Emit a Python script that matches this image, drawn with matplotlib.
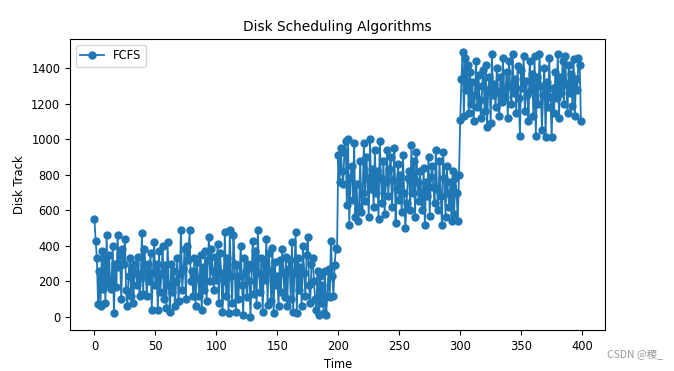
import matplotlib.pyplot as plt

# hand-read track values, x = 0..399
seg1 = [550, 430, 330, 75, 260, 60, 370, 160, 330, 80, 460, 200, 350, 180, 160, 400, 20, 300, 170, 460,
        280, 350, 100, 380, 300, 440, 150, 60, 230, 330, 120, 280, 80, 300, 250, 180, 340, 120, 220, 470,
        130, 380, 260, 120, 300, 200, 360, 40, 250, 420, 180, 300, 40, 370, 140, 240, 400, 100, 290, 50,
        420, 180, 30, 300, 140, 260, 60, 200, 330, 90, 240, 490, 150, 270, 380, 100, 400, 320, 490, 200,
        260, 120, 330, 60, 310, 220, 120, 350, 40, 280, 150, 370, 90, 320, 450, 200, 380, 260, 150, 340,
        210, 410, 80, 360, 250, 30, 200, 480, 120, 330, 20, 490, 230, 80, 460, 300, 30, 290, 100, 230,
        400, 180, 10, 330, 260, 110, 300, 200, 0, 280, 430, 130, 370, 70, 490, 250, 140, 330, 30, 300,
        210, 440, 70, 360, 260, 90, 390, 20, 310, 180, 230, 60, 320, 140, 380, 250, 110, 340, 60, 270,
        320, 100, 420, 30, 250, 480, 20, 330, 150, 280, 60, 400, 250, 120, 350, 450, 180, 80, 300, 330,
        200, 100, 40, 260, 10, 230, 80, 180, 20, 260, 10, 120, 270, 110, 430, 230, 120, 290, 390, 380]
seg2 = [910, 760, 950, 820, 750, 930, 990, 630, 1000, 520, 780, 850, 660, 980, 560, 750, 540, 620, 880, 590,
        700, 980, 650, 900, 780, 560, 1000, 720, 830, 620, 940, 700, 820, 550, 990, 780, 640, 880, 580, 760,
        940, 680, 830, 900, 620, 770, 950, 530, 720, 860, 660, 800, 590, 910, 700, 500, 640, 780, 820, 600,
        970, 700, 880, 560, 930, 760, 650, 820, 700, 600, 840, 520, 760, 680, 900, 570, 790, 850, 730, 640,
        940, 720, 600, 880, 680, 520, 930, 780, 560, 850, 700, 620, 760, 540, 820, 580, 780, 700, 540, 800]
seg3 = [1110, 1340, 1490, 1130, 1460, 1280, 1420, 1150, 1380, 1200, 1320, 1100, 1250, 1440, 1180, 1360, 1220, 1120, 1300, 1390,
        1160, 1420, 1070, 1280, 1350, 1090, 1480, 1250, 1310, 1180, 1400, 1270, 1130, 1350, 1210, 1460, 1280, 1240, 1380, 1120,
        1440, 1300, 1200, 1480, 1260, 1340, 1150, 1410, 1230, 1020, 1390, 1290, 1470, 1160, 1330, 1250, 1100, 1440, 1280, 1370,
        1130, 1470, 1020, 1350, 1200, 1480, 1300, 1050, 1250, 1400, 1010, 1320, 1180, 1460, 1240, 1010, 1290, 1150, 1380, 1230,
        1480, 1120, 1350, 1260, 1440, 1200, 1470, 1310, 1150, 1420, 1260, 1370, 1190, 1450, 1130, 1340, 1280, 1460, 1420, 1100]
tracks = seg1 + seg2 + seg3

plt.rcParams['font.size'] = 8.3
fig, ax = plt.subplots(figsize=(6.74, 3.71), dpi=100)
fig.subplots_adjust(left=0.104, right=0.898, top=0.895, bottom=0.11)

ax.plot(range(len(tracks)), tracks, marker='o', markersize=5, linewidth=1.3, label='FCFS')
ax.set_title('Disk Scheduling Algorithms', fontsize=9.9)
ax.set_xlabel('Time')
ax.set_ylabel('Disk Track')
ax.legend(loc='upper left')

fig.text(0.90, 0.035, 'CSDN @稷_', color='#999999', fontsize=7.5,
         family=['Noto Sans CJK SC', 'DejaVu Sans'])

fig.savefig('out.png')
